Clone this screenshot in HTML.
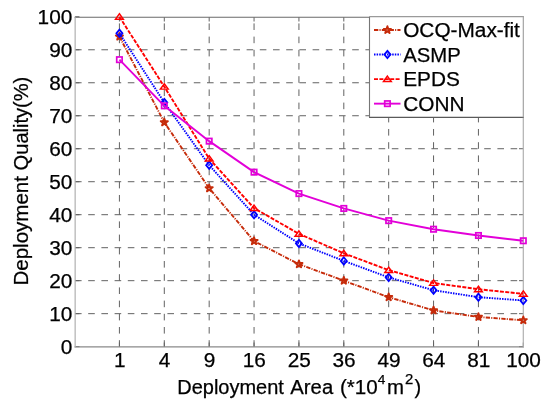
<!DOCTYPE html><html><head><meta charset="utf-8"><style>html,body{margin:0;padding:0;background:#fff;overflow:hidden;}svg{display:block;}text{font-family:"Liberation Sans",Arial,sans-serif;fill:#000;stroke:#000;stroke-width:0.25px;}</style></head><body>
<svg width="550" height="406" viewBox="0 0 550 406">
<rect width="550" height="406" fill="#fff"/>
<g stroke="#626262" stroke-width="1" stroke-dasharray="6.6 6.6" fill="none"><line x1="119.42" y1="346.80" x2="119.42" y2="17.20"/><line x1="164.30" y1="346.80" x2="164.30" y2="17.20"/><line x1="209.18" y1="346.80" x2="209.18" y2="17.20"/><line x1="254.05" y1="346.80" x2="254.05" y2="17.20"/><line x1="298.93" y1="346.80" x2="298.93" y2="17.20"/><line x1="343.80" y1="346.80" x2="343.80" y2="17.20"/><line x1="388.68" y1="346.80" x2="388.68" y2="17.20"/><line x1="433.55" y1="346.80" x2="433.55" y2="17.20"/><line x1="478.43" y1="346.80" x2="478.43" y2="17.20"/><line x1="75.00" y1="313.66" x2="523.30" y2="313.66"/><line x1="75.00" y1="280.68" x2="523.30" y2="280.68"/><line x1="75.00" y1="247.69" x2="523.30" y2="247.69"/><line x1="75.00" y1="214.70" x2="523.30" y2="214.70"/><line x1="75.00" y1="181.71" x2="523.30" y2="181.71"/><line x1="75.00" y1="148.73" x2="523.30" y2="148.73"/><line x1="75.00" y1="115.74" x2="523.30" y2="115.74"/><line x1="75.00" y1="82.75" x2="523.30" y2="82.75"/><line x1="75.00" y1="49.77" x2="523.30" y2="49.77"/></g>
<g stroke="#626262" stroke-width="1" fill="none"><line x1="119.42" y1="346.80" x2="119.42" y2="342.50"/><line x1="119.42" y1="17.20" x2="119.42" y2="21.50"/><line x1="164.30" y1="346.80" x2="164.30" y2="342.50"/><line x1="164.30" y1="17.20" x2="164.30" y2="21.50"/><line x1="209.18" y1="346.80" x2="209.18" y2="342.50"/><line x1="209.18" y1="17.20" x2="209.18" y2="21.50"/><line x1="254.05" y1="346.80" x2="254.05" y2="342.50"/><line x1="254.05" y1="17.20" x2="254.05" y2="21.50"/><line x1="298.93" y1="346.80" x2="298.93" y2="342.50"/><line x1="298.93" y1="17.20" x2="298.93" y2="21.50"/><line x1="343.80" y1="346.80" x2="343.80" y2="342.50"/><line x1="343.80" y1="17.20" x2="343.80" y2="21.50"/><line x1="388.68" y1="346.80" x2="388.68" y2="342.50"/><line x1="388.68" y1="17.20" x2="388.68" y2="21.50"/><line x1="433.55" y1="346.80" x2="433.55" y2="342.50"/><line x1="433.55" y1="17.20" x2="433.55" y2="21.50"/><line x1="478.43" y1="346.80" x2="478.43" y2="342.50"/><line x1="478.43" y1="17.20" x2="478.43" y2="21.50"/><line x1="523.30" y1="346.80" x2="523.30" y2="342.50"/><line x1="523.30" y1="17.20" x2="523.30" y2="21.50"/><line x1="75.15" y1="346.65" x2="79.45" y2="346.65"/><line x1="523.30" y1="346.65" x2="519.00" y2="346.65"/><line x1="75.15" y1="313.66" x2="79.45" y2="313.66"/><line x1="523.30" y1="313.66" x2="519.00" y2="313.66"/><line x1="75.15" y1="280.68" x2="79.45" y2="280.68"/><line x1="523.30" y1="280.68" x2="519.00" y2="280.68"/><line x1="75.15" y1="247.69" x2="79.45" y2="247.69"/><line x1="523.30" y1="247.69" x2="519.00" y2="247.69"/><line x1="75.15" y1="214.70" x2="79.45" y2="214.70"/><line x1="523.30" y1="214.70" x2="519.00" y2="214.70"/><line x1="75.15" y1="181.71" x2="79.45" y2="181.71"/><line x1="523.30" y1="181.71" x2="519.00" y2="181.71"/><line x1="75.15" y1="148.73" x2="79.45" y2="148.73"/><line x1="523.30" y1="148.73" x2="519.00" y2="148.73"/><line x1="75.15" y1="115.74" x2="79.45" y2="115.74"/><line x1="523.30" y1="115.74" x2="519.00" y2="115.74"/><line x1="75.15" y1="82.75" x2="79.45" y2="82.75"/><line x1="523.30" y1="82.75" x2="519.00" y2="82.75"/><line x1="75.15" y1="49.77" x2="79.45" y2="49.77"/><line x1="523.30" y1="49.77" x2="519.00" y2="49.77"/><line x1="75.15" y1="16.78" x2="79.45" y2="16.78"/><line x1="523.30" y1="16.78" x2="519.00" y2="16.78"/></g>
<line x1="74.55" y1="17.20" x2="523.90" y2="17.20" stroke="#6a6a6a" stroke-width="1.1"/>
<line x1="74.55" y1="346.80" x2="523.90" y2="346.80" stroke="#8a8a8a" stroke-width="1.3"/>
<line x1="75.15" y1="17.20" x2="75.15" y2="347.40" stroke="#b0b0b0" stroke-width="1.2"/>
<line x1="523.30" y1="17.20" x2="523.30" y2="347.40" stroke="#b0b0b0" stroke-width="1.2"/>
<polyline points="119.42,36.57 164.30,122.34 209.18,188.31 254.05,241.09 298.93,264.18 343.80,280.68 388.68,297.17 433.55,310.36 478.43,316.96 523.30,320.26" fill="none" stroke="#c62b0a" stroke-width="1.9" stroke-linejoin="round" stroke-dasharray="4.3 1.2 1.1 1.2"/>
<g fill="none" stroke="#c62b0a" stroke-width="1.9" stroke-linejoin="round"><polygon points="119.42,32.82 120.31,35.36 122.99,35.41 120.85,37.04 121.63,39.61 119.42,38.07 117.22,39.61 118.00,37.04 115.86,35.41 118.54,35.36"/><polygon points="164.30,118.59 165.18,121.12 167.87,121.18 165.73,122.80 166.50,125.37 164.30,123.84 162.10,125.37 162.87,122.80 160.73,121.18 163.42,121.12"/><polygon points="209.18,184.56 210.06,187.10 212.74,187.15 210.60,188.78 211.38,191.35 209.18,189.81 206.97,191.35 207.75,188.78 205.61,187.15 208.29,187.10"/><polygon points="254.05,237.34 254.93,239.88 257.62,239.93 255.48,241.56 256.25,244.13 254.05,242.59 251.85,244.13 252.62,241.56 250.48,239.93 253.17,239.88"/><polygon points="298.93,260.43 299.81,262.97 302.49,263.02 300.35,264.65 301.13,267.22 298.93,265.68 296.72,267.22 297.50,264.65 295.36,263.02 298.04,262.97"/><polygon points="343.80,276.93 344.68,279.46 347.37,279.52 345.23,281.14 346.00,283.71 343.80,282.18 341.60,283.71 342.37,281.14 340.23,279.52 342.92,279.46"/><polygon points="388.68,293.42 389.56,295.96 392.24,296.01 390.10,297.63 390.88,300.20 388.68,298.67 386.47,300.20 387.25,297.63 385.11,296.01 387.79,295.96"/><polygon points="433.55,306.61 434.43,309.15 437.12,309.21 434.98,310.83 435.75,313.40 433.55,311.86 431.35,313.40 432.12,310.83 429.98,309.21 432.67,309.15"/><polygon points="478.43,313.21 479.31,315.75 481.99,315.80 479.85,317.43 480.63,320.00 478.43,318.46 476.22,320.00 477.00,317.43 474.86,315.80 477.54,315.75"/><polygon points="523.30,316.51 524.18,319.05 526.87,319.10 524.73,320.72 525.50,323.29 523.30,321.76 521.10,323.29 521.87,320.72 519.73,319.10 522.42,319.05"/></g>
<polyline points="119.42,33.27 164.30,102.55 209.18,165.22 254.05,214.70 298.93,243.40 343.80,260.88 388.68,277.38 433.55,290.24 478.43,297.17 523.30,300.47" fill="none" stroke="#0000ff" stroke-width="1.9" stroke-linejoin="round" stroke-dasharray="1.5 1.1"/>
<g fill="none" stroke="#0000ff" stroke-width="1.8" stroke-linejoin="miter"><polygon points="119.42,29.67 122.42,33.27 119.42,36.87 116.42,33.27"/><polygon points="164.30,98.95 167.30,102.55 164.30,106.15 161.30,102.55"/><polygon points="209.18,161.62 212.18,165.22 209.18,168.82 206.18,165.22"/><polygon points="254.05,211.10 257.05,214.70 254.05,218.30 251.05,214.70"/><polygon points="298.93,239.80 301.93,243.40 298.93,247.00 295.93,243.40"/><polygon points="343.80,257.28 346.80,260.88 343.80,264.48 340.80,260.88"/><polygon points="388.68,273.78 391.68,277.38 388.68,280.98 385.68,277.38"/><polygon points="433.55,286.64 436.55,290.24 433.55,293.84 430.55,290.24"/><polygon points="478.43,293.57 481.43,297.17 478.43,300.77 475.43,297.17"/><polygon points="523.30,296.87 526.30,300.47 523.30,304.07 520.30,300.47"/></g>
<polyline points="119.42,16.78 164.30,86.71 209.18,158.62 254.05,208.10 298.93,233.83 343.80,253.30 388.68,270.12 433.55,282.99 478.43,289.25 523.30,293.87" fill="none" stroke="#ff0000" stroke-width="1.9" stroke-linejoin="round" stroke-dasharray="4 1.4"/>
<g fill="none" stroke="#ff0000" stroke-width="1.45" stroke-linejoin="miter"><polygon points="119.42,13.78 123.33,19.18 115.52,19.18"/><polygon points="164.30,83.71 168.20,89.11 160.40,89.11"/><polygon points="209.18,155.62 213.08,161.02 205.28,161.02"/><polygon points="254.05,205.10 257.95,210.50 250.15,210.50"/><polygon points="298.93,230.83 302.82,236.23 295.03,236.23"/><polygon points="343.80,250.30 347.70,255.70 339.90,255.70"/><polygon points="388.68,267.12 392.57,272.52 384.78,272.52"/><polygon points="433.55,279.99 437.45,285.39 429.65,285.39"/><polygon points="478.43,286.25 482.32,291.65 474.53,291.65"/><polygon points="523.30,290.87 527.20,296.27 519.40,296.27"/></g>
<polyline points="119.42,59.66 164.30,105.84 209.18,141.14 254.05,172.15 298.93,193.59 343.80,208.43 388.68,220.64 433.55,229.22 478.43,235.48 523.30,240.76" fill="none" stroke="#e200d8" stroke-width="1.9" stroke-linejoin="round"/>
<g fill="none" stroke="#e200d8" stroke-width="1.7" stroke-linejoin="miter"><rect x="116.72" y="56.96" width="5.40" height="5.40"/><rect x="161.60" y="103.14" width="5.40" height="5.40"/><rect x="206.48" y="138.44" width="5.40" height="5.40"/><rect x="251.35" y="169.45" width="5.40" height="5.40"/><rect x="296.23" y="190.89" width="5.40" height="5.40"/><rect x="341.10" y="205.73" width="5.40" height="5.40"/><rect x="385.98" y="217.94" width="5.40" height="5.40"/><rect x="430.85" y="226.52" width="5.40" height="5.40"/><rect x="475.73" y="232.78" width="5.40" height="5.40"/><rect x="520.60" y="238.06" width="5.40" height="5.40"/></g>
<text x="72.30" y="353.85" font-size="20" text-anchor="end" textLength="11.57" lengthAdjust="spacingAndGlyphs">0</text>
<text x="72.30" y="320.86" font-size="20" text-anchor="end" textLength="23.14" lengthAdjust="spacingAndGlyphs">10</text>
<text x="72.30" y="287.88" font-size="20" text-anchor="end" textLength="23.14" lengthAdjust="spacingAndGlyphs">20</text>
<text x="72.30" y="254.89" font-size="20" text-anchor="end" textLength="23.14" lengthAdjust="spacingAndGlyphs">30</text>
<text x="72.30" y="221.90" font-size="20" text-anchor="end" textLength="23.14" lengthAdjust="spacingAndGlyphs">40</text>
<text x="72.30" y="188.91" font-size="20" text-anchor="end" textLength="23.14" lengthAdjust="spacingAndGlyphs">50</text>
<text x="72.30" y="155.93" font-size="20" text-anchor="end" textLength="23.14" lengthAdjust="spacingAndGlyphs">60</text>
<text x="72.30" y="122.94" font-size="20" text-anchor="end" textLength="23.14" lengthAdjust="spacingAndGlyphs">70</text>
<text x="72.30" y="89.95" font-size="20" text-anchor="end" textLength="23.14" lengthAdjust="spacingAndGlyphs">80</text>
<text x="72.30" y="56.97" font-size="20" text-anchor="end" textLength="23.14" lengthAdjust="spacingAndGlyphs">90</text>
<text x="72.30" y="23.98" font-size="20" text-anchor="end" textLength="34.71" lengthAdjust="spacingAndGlyphs">100</text>
<text x="119.72" y="367.20" font-size="20" text-anchor="middle" textLength="11.57" lengthAdjust="spacingAndGlyphs">1</text>
<text x="164.60" y="367.20" font-size="20" text-anchor="middle" textLength="11.57" lengthAdjust="spacingAndGlyphs">4</text>
<text x="209.48" y="367.20" font-size="20" text-anchor="middle" textLength="11.57" lengthAdjust="spacingAndGlyphs">9</text>
<text x="254.35" y="367.20" font-size="20" text-anchor="middle" textLength="23.14" lengthAdjust="spacingAndGlyphs">16</text>
<text x="299.23" y="367.20" font-size="20" text-anchor="middle" textLength="23.14" lengthAdjust="spacingAndGlyphs">25</text>
<text x="344.10" y="367.20" font-size="20" text-anchor="middle" textLength="23.14" lengthAdjust="spacingAndGlyphs">36</text>
<text x="388.98" y="367.20" font-size="20" text-anchor="middle" textLength="23.14" lengthAdjust="spacingAndGlyphs">49</text>
<text x="433.85" y="367.20" font-size="20" text-anchor="middle" textLength="23.14" lengthAdjust="spacingAndGlyphs">64</text>
<text x="478.73" y="367.20" font-size="20" text-anchor="middle" textLength="23.14" lengthAdjust="spacingAndGlyphs">81</text>
<text x="523.60" y="367.20" font-size="20" text-anchor="middle" textLength="34.71" lengthAdjust="spacingAndGlyphs">100</text>
<text x="177.20" y="394.00" font-size="20" text-anchor="start" textLength="106.72" lengthAdjust="spacingAndGlyphs">Deployment</text>
<text x="290.30" y="394.00" font-size="20" text-anchor="start" textLength="42.88" lengthAdjust="spacingAndGlyphs">Area</text>
<text x="339.90" y="394.00" font-size="20" text-anchor="start" textLength="37.79" lengthAdjust="spacingAndGlyphs">(*10</text>
<text x="377.70" y="383.70" font-size="13.0" text-anchor="start" textLength="7.59" lengthAdjust="spacingAndGlyphs">4</text>
<text x="387.00" y="394.00" font-size="20" text-anchor="start" textLength="16.99" lengthAdjust="spacingAndGlyphs">m</text>
<text x="405.00" y="383.70" font-size="14.5" text-anchor="start" textLength="8.31" lengthAdjust="spacingAndGlyphs">2</text>
<text x="414.40" y="394.00" font-size="20" text-anchor="start" textLength="6.66" lengthAdjust="spacingAndGlyphs">)</text>
<text transform="translate(27.7,285.6) rotate(-90)" font-size="20" textLength="109.60" lengthAdjust="spacingAndGlyphs">Deployment</text>
<text transform="translate(27.7,170.4) rotate(-90)" font-size="20" textLength="93.72" lengthAdjust="spacingAndGlyphs">Quality(%)</text>
<rect x="369.5" y="16.6" width="153.80" height="100.80" fill="#fff"/>
<line x1="369.50" y1="16.60" x2="523.90" y2="16.60" stroke="#9a9a9a" stroke-width="1.1"/>
<line x1="369.00" y1="117.40" x2="523.90" y2="117.40" stroke="#5a5a5a" stroke-width="1.1"/>
<line x1="369.50" y1="16.60" x2="369.50" y2="117.40" stroke="#767676" stroke-width="1.1"/>
<line x1="523.30" y1="16.60" x2="523.30" y2="117.40" stroke="#a8a8a8" stroke-width="1.2"/>
<line x1="374" y1="30.00" x2="400.5" y2="30.00" stroke="#c62b0a" stroke-width="1.9" stroke-dasharray="4.3 1.2 1.1 1.2"/>
<g fill="none" stroke="#c62b0a" stroke-width="1.9" stroke-linejoin="round"><polygon points="387.40,26.25 388.28,28.79 390.97,28.84 388.83,30.46 389.60,33.03 387.40,31.50 385.20,33.03 385.97,30.46 383.83,28.84 386.52,28.79"/></g>
<text x="403.20" y="37.10" font-size="20" text-anchor="start" textLength="116.71" lengthAdjust="spacingAndGlyphs">OCQ-Max-fit</text>
<line x1="374" y1="54.55" x2="400.5" y2="54.55" stroke="#0000ff" stroke-width="1.9" stroke-dasharray="1.5 1.1"/>
<g fill="none" stroke="#0000ff" stroke-width="1.8" stroke-linejoin="miter"><polygon points="387.40,50.95 390.40,54.55 387.40,58.15 384.40,54.55"/></g>
<text x="403.20" y="61.65" font-size="20" text-anchor="start" textLength="57.53" lengthAdjust="spacingAndGlyphs">ASMP</text>
<line x1="374" y1="79.10" x2="400.5" y2="79.10" stroke="#ff0000" stroke-width="1.9" stroke-dasharray="4 1.4"/>
<g fill="none" stroke="#ff0000" stroke-width="1.45" stroke-linejoin="miter"><polygon points="387.40,76.10 391.30,81.50 383.50,81.50"/></g>
<text x="403.20" y="86.20" font-size="20" text-anchor="start" textLength="56.64" lengthAdjust="spacingAndGlyphs">EPDS</text>
<line x1="374" y1="103.65" x2="400.5" y2="103.65" stroke="#e200d8" stroke-width="1.9"/>
<g fill="none" stroke="#e200d8" stroke-width="1.7" stroke-linejoin="miter"><rect x="384.70" y="100.95" width="5.40" height="5.40"/></g>
<text x="403.20" y="110.75" font-size="20" text-anchor="start" textLength="61.24" lengthAdjust="spacingAndGlyphs">CONN</text>
</svg></body></html>
